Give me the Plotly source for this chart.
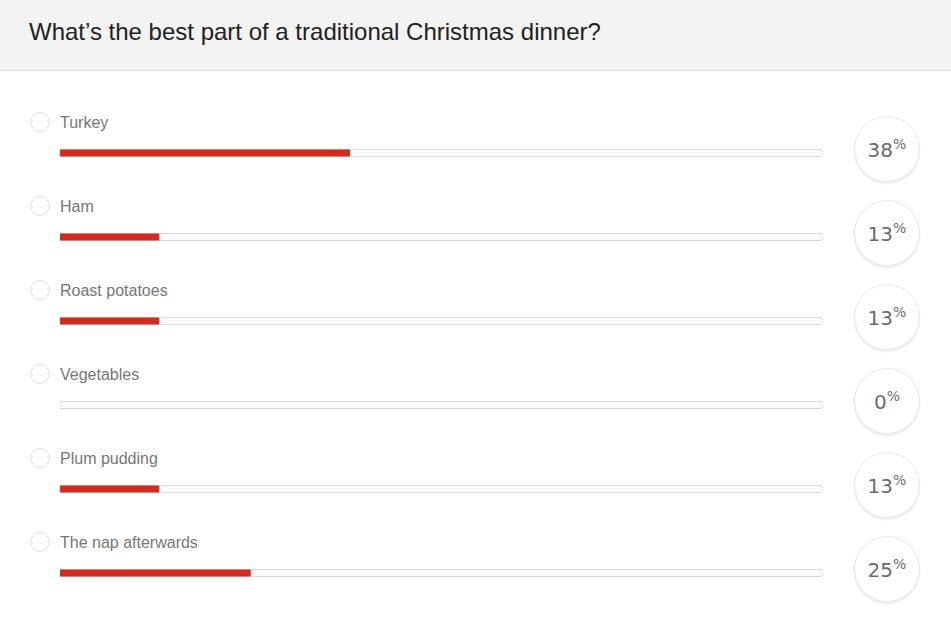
import plotly.graph_objects as go

title = "What’s the best part of a traditional Christmas dinner?"
options = ["Turkey", "Ham", "Roast potatoes", "Vegetables", "Plum pudding", "The nap afterwards"]
percents = [38, 13, 13, 0, 13, 25]

W, H = 951, 621
ROW0, STEP = 153, 84  # pixel y of first bar, row spacing
n = len(options)
idx = list(range(n))

def py(dpx):
    return dpx / STEP

fig = go.Figure()

# track
fig.add_trace(go.Bar(
    x=[100] * n, y=idx, orientation="h", width=py(7),
    marker=dict(color="#fbfbfb", line=dict(color="#d9d9d9", width=1)),
    xaxis="x", yaxis="y", hoverinfo="skip", showlegend=False))
# value bars
fig.add_trace(go.Bar(
    x=percents, y=idx, orientation="h", width=py(7),
    marker=dict(color="#d42a1f", line=dict(width=0)),
    xaxis="x", yaxis="y", hoverinfo="skip", showlegend=False))

# option labels
fig.add_trace(go.Scatter(
    x=[60] * n, y=[i - py(29) for i in idx], mode="text", text=options,
    textposition="middle right",
    textfont=dict(family="Liberation Sans, Arial", size=16, color="#777777"),
    xaxis="x2", yaxis="y2", hoverinfo="skip", showlegend=False))

# radio circles
fig.add_trace(go.Scatter(
    x=[40] * n, y=[i - py(31) for i in idx], mode="markers",
    marker=dict(size=19, color="white", line=dict(color="#dddddd", width=1)),
    xaxis="x2", yaxis="y2", hoverinfo="skip", showlegend=False))

# percent circle shadows
fig.add_trace(go.Scatter(
    x=[887] * n, y=[i - py(2) for i in idx], mode="markers",
    marker=dict(size=67, color="rgba(0,0,0,0.06)", line=dict(width=0)),
    xaxis="x2", yaxis="y2", hoverinfo="skip", showlegend=False))
# percent circles
fig.add_trace(go.Scatter(
    x=[887] * n, y=[i - py(4) for i in idx], mode="markers",
    marker=dict(size=65, color="white", line=dict(color="#e8e8e8", width=1)),
    xaxis="x2", yaxis="y2", hoverinfo="skip", showlegend=False))
# percent values
fig.add_trace(go.Scatter(
    x=[887] * n, y=[i - py(1) for i in idx], mode="text",
    text=[f"{p}<sup>%</sup>" for p in percents], textposition="middle center",
    textfont=dict(family="DejaVu Sans", size=20, color="#6b6b6b"),
    xaxis="x2", yaxis="y2", hoverinfo="skip", showlegend=False))

top = -ROW0 / STEP
bottom = (H - ROW0) / STEP

fig.update_layout(
    width=W, height=H, margin=dict(l=0, r=0, t=0, b=0),
    paper_bgcolor="white", plot_bgcolor="rgba(0,0,0,0)",
    barmode="overlay", barcornerradius=3, hovermode=False,
    xaxis=dict(domain=[60 / W, 823 / W], range=[0, 100], visible=False, fixedrange=True),
    yaxis=dict(domain=[0, 1], range=[bottom, top], visible=False, fixedrange=True),
    xaxis2=dict(domain=[0, 1], range=[0, W], visible=False, anchor="y2", fixedrange=True),
    yaxis2=dict(domain=[0, 1], range=[bottom, top], visible=False, anchor="x2", fixedrange=True),
    shapes=[
        dict(type="rect", xref="paper", yref="paper", x0=0, x1=1, y0=1 - 70 / H, y1=1,
             fillcolor="#f3f3f3", line=dict(width=0), layer="below"),
        dict(type="line", xref="paper", yref="paper", x0=0, x1=1, y0=1 - 70.5 / H, y1=1 - 70.5 / H,
             line=dict(color="#e2e2e2", width=1), layer="below"),
    ],
    annotations=[
        dict(text=title, xref="paper", yref="paper", x=27 / W, y=1 - 31 / H,
             xanchor="left", yanchor="middle", showarrow=False,
             font=dict(family="Liberation Sans, Arial", size=24, color="#222222")),
    ],
)

fig.write_html("out.html", config={"displayModeBar": False},
               post_script="document.body.style.margin='0';document.body.style.overflow='hidden';")
